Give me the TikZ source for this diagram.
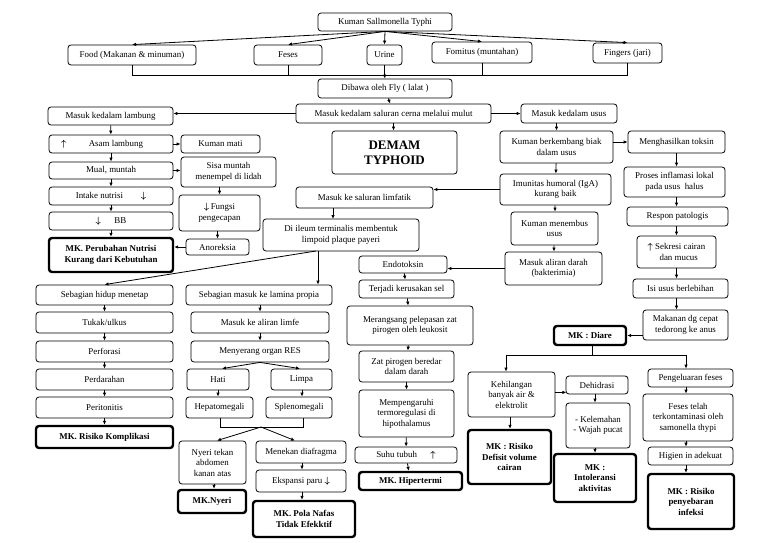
\documentclass[tikz,border=0pt]{standalone}
\usepackage{amsmath}
\usepackage{fontspec}
\setmainfont{Liberation Serif}
\usetikzlibrary{arrows.meta}
\newcommand\bx[7][]{\node[box,#1,minimum width={(#4-#2)*1pt},minimum height={(#5-#3)*1pt}] (#6) at ({(#2+#4)/2},{-(#3+#5)/2}) {#7};}
\newcommand\ua{$\boldsymbol{\uparrow}$}
\newcommand\da{$\boldsymbol{\downarrow}$}
\begin{document}
\begin{tikzpicture}[x=1pt,y=1pt,
  box/.style={draw,rounded corners=3pt,line width=0.8pt,align=center,inner sep=1pt,font=\fontsize{8.9}{10.5}\selectfont},
  mk/.style={line width=2.4pt,font=\fontsize{8.9}{10.5}\selectfont\bfseries},
  ar/.style={-{Latex[length=4pt,width=3.5pt]},line width=0.8pt},
  ln/.style={line width=0.8pt}]
\useasboundingbox (0,0) rectangle (768,-543);
% top
\bx{318}{13}{452}{31}{k}{Kuman Sallmonella Typhi}
\bx{68}{45}{196}{65}{food}{Food (Makanan \& minuman)}
\bx{254}{45}{322}{65}{feses}{Feses}
\bx{367}{45}{402}{65}{urine}{Urine}
\bx{432}{42}{532}{63}{fomi}{Fomitus (muntahan)}
\bx{593}{43}{662}{63}{fing}{Fingers (jari)}
\bx{318}{79}{452}{98}{fly}{Dibawa oleh Fly ( lalat )}
\bx{296}{104}{491}{123}{sal}{Masuk kedalam saluran cerna melalui mulut}
\bx{48}{107}{173}{125}{lam}{Masuk kedalam lambung}
\bx{521}{104}{617}{123}{usus}{Masuk kedalam usus}
\bx[font=\fontsize{13}{15}\selectfont\bfseries]{332}{131}{457}{174}{dem}{DEMAM\\TYPHOID}
% left
\bx{49}{135}{173}{153}{asam}{\ua\hspace{2.5em}Asam lambung\hspace{2em}}
\bx{181}{135}{260}{153}{mati}{Kuman mati}
\bx{49}{162}{173}{179}{mual}{Mual, muntah}
\bx{181}{157}{276}{187}{sisa}{Sisa muntah\\menempel di lidah}
\bx{49}{187}{173}{205}{intake}{Intake nutrisi\hspace{2em}\da}
\bx{179}{195}{260}{231}{fungsi}{\da\,Fungsi\\pengecapan}
\bx{49}{212}{173}{230}{bb}{\da\hspace{1.5em}BB}
\bx{186}{239}{249}{255}{anor}{Anoreksia}
\bx[mk]{49}{238}{173}{272}{mkp}{MK. Perubahan Nutrisi\\Kurang dari Kebutuhan}
\bx{296}{187}{433}{208}{limf}{Masuk ke saluran limfatik}
\bx{263}{219}{419}{251}{ile}{Di ileum terminalis membentuk\\limpoid plaque payeri}
% right
\bx{500}{131}{613}{163}{kb}{Kuman berkembang biak\\dalam usus}
\bx{628}{131}{725}{153}{tok}{Menghasilkan toksin}
\bx{500}{174}{611}{205}{imu}{Imunitas humoral (IgA)\\kurang baik}
\bx{624}{167}{725}{197}{pro}{Proses inflamasi lokal\\pada usus\ \ halus}
\bx{511}{212}{598}{245}{men}{Kuman menembus\\usus}
\bx{627}{207}{728}{226}{res}{Respon patologis}
\bx{505}{252}{602}{285}{dar}{Masuk aliran darah\\(bakterimia)}
\bx{637}{236}{716}{268}{sek}{\ua\ Sekresi cairan\\\ \ dan mucus}
\bx{359}{256}{447}{273}{endo}{Endotoksin}
\bx{633}{279}{728}{298}{isi}{Isi usus berlebihan}
\bx{359}{280}{454}{298}{ter}{Terjadi kerusakan sel}
\bx{643}{310}{728}{340}{mak}{Makanan dg cepat\\tedorong ke anus}
\bx[mk]{554}{326}{626}{345}{dia}{MK : Diare}
\bx{347}{306}{473}{345}{mer}{Merangsang pelepasan zat\\pirogen oleh leukosit}
\bx{359}{351}{454}{382}{zat}{Zat pirogen beredar\\dalam darah}
\bx{359}{390}{454}{437}{mem}{Mempengaruhi\\termoregulasi di\\hipothalamus}
\bx{355}{447}{457}{463}{suhu}{Suhu tubuh\hspace{1.5em}\ua}
\bx[mk]{359}{472}{462}{490}{hip}{MK. Hipertermi}
% lower left
\bx{36}{285}{173}{305}{hid}{Sebagian hidup menetap}
\bx{36}{312}{173}{333}{tuk}{Tukak/ulkus}
\bx{36}{341}{173}{362}{per}{Perforasi}
\bx{36}{369}{173}{390}{pda}{Perdarahan}
\bx{36}{397}{173}{418}{pto}{Peritonitis}
\bx[mk]{36}{426}{173}{448}{mkr}{MK. Risiko Komplikasi}
\bx{186}{285}{332}{305}{lp}{Sebagian masuk ke lamina propia}
\bx{191}{312}{329}{333}{alf}{Masuk ke aliran limfe}
\bx{191}{341}{329}{362}{res2}{Menyerang organ RES}
\bx{187}{369}{249}{390}{hati}{Hati}
\bx{271}{369}{332}{390}{limpa}{Limpa}
\bx{186}{397}{253}{418}{hep}{Hepatomegali}
\bx{266}{397}{332}{418}{spl}{Splenomegali}
\bx{179}{441}{246}{484}{nye}{Nyeri tekan\\abdomen\\kanan atas}
\bx{256}{441}{346}{463}{dia2}{Menekan diafragma}
\bx{256}{470}{346}{492}{eks}{Ekspansi paru \da}
\bx[mk]{178}{490}{246}{513}{mkn}{MK.Nyeri}
\bx[mk]{253}{501}{355}{537}{mkpn}{MK. Pola Nafas\\Tidak Efekktif}
% lower right
\bx{468}{372}{555}{417}{keh}{Kehilangan\\banyak air \&\\elektrolit}
\bx{566}{376}{628}{394}{deh}{Dehidrasi}
\bx{566}{403}{630}{448}{kel}{- Kelemahan\\- Wajah pucat}
\bx{648}{369}{733}{387}{peng}{Pengeluaran feses}
\bx{643}{394}{733}{441}{fes}{Feses telah\\terkontaminasi oleh\\samonella thypi}
\bx{648}{447}{733}{465}{hig}{Higien in adekuat}
\bx[mk]{468}{430}{551}{484}{mkd}{MK : Risiko\\Defisit volume\\cairan}
\bx[mk]{554}{454}{636}{502}{mki}{MK :\\Intoleransi\\aktivitas}
\bx[mk]{648}{474}{734}{529}{mks}{MK : Risiko\\penyebaran\\infeksi}
% connectors top
\foreach \t in {food,feses,urine,fomi,fing} \draw[ar] (k.south) -- (\t.north);
\draw[ln] (food.south) -- (food.south|-0,-75) coordinate (b1) -- (fing.south|-0,-75) -- (fing.south);
\draw[ln] (feses.south) -- (feses.south|-0,-75);
\draw[ln] (fomi.south) -- (fomi.south|-0,-75);
\draw[ln] (urine.south) -- (urine.south|-0,-75) coordinate (b2);
\draw[ar] (b2) -- (fly.north);
\draw[ar] (fly) -- (sal);
\draw[ar] (sal.west) -- (sal.west-|lam.east);
\draw[ar] (sal.east) -- (usus.west|-sal.east);
\draw[ar] (sal.south) -- (sal.south|-dem.north);
% left chain
\draw[ar] (lam) -- (asam); \draw[ar] (asam) -- (mual); \draw[ar] (mual) -- (intake);
\draw[ar] (intake) -- (bb); \draw[ar] (bb) -- (mkp);
\draw[ar] (asam) -- (mati); \draw[ar] (mual.east) -- (mual.east-|sisa.west);
\draw[ar] (sisa.south-|fungsi.north) -- (fungsi.north);
\draw[ar] (fungsi.south-|anor.north) -- (anor.north);
\draw[ar] (anor.west) -- (anor.west-|mkp.east);
% middle
\draw[ar] (usus.south-|kb.north) -- (kb.north);
\draw[ar] (kb.east|-tok.west) -- (tok.west);
\draw[ar] (kb) -- (imu); \draw[ar] (imu) -- (men); \draw[ar] (men) -- (dar);
\draw[ar] (imu.west) -- (imu.west-|limf.east);
\draw[ar] (limf.south-|333,0) -- (333,-219);
\draw[ar] (316,-251) -- (hid.north);
\draw[ar] (318,-251) -- (lp.north-|318,0);
\draw[ar] (dar.west) -- (dar.west-|endo.east);
\draw[ar] (endo) -- (ter); \draw[ar] (ter) -- (mer); \draw[ar] (mer) -- (zat);
\draw[ar] (zat) -- (mem); \draw[ar] (mem) -- (suhu); \draw[ar] (suhu) -- (hip);
% right
\draw[ar] (tok) -- (tok|-pro.north); \draw[ar] (pro.south-|tok) -- (res.north-|tok);
\draw[ar] (res.south-|tok) -- (sek.north-|tok); \draw[ar] (sek.south-|tok) -- (isi.north-|tok);
\draw[ar] (isi.south-|tok) -- (mak.north-|tok);
\draw[ar] (mak.west|-dia.east) -- (dia.east);
% lower left
\draw[ar] (hid) -- (tuk); \draw[ar] (tuk) -- (per); \draw[ar] (per) -- (pda);
\draw[ar] (pda) -- (pto); \draw[ar] (pto) -- (mkr);
\draw[ar] (lp.south-|alf) -- (alf); \draw[ar] (alf) -- (res2);
\draw[ar] (res2.south) -- (hati.north-|222,0);
\draw[ar] (res2.south) -- (limpa.north-|300,0);
\draw[ar] (hati.south-|218,0) -- (hep.north-|218,0);
\draw[ar] (limpa.south-|302,0) -- (spl.north-|302,0);
\draw[ln] (hep.south-|220,0) -- (220,-427) -- (303,-427) -- (spl.south-|303,0);
\draw[ar] (261,-427) -- (nye.north-|217,0);
\draw[ar] (261,-427) -- (dia2.north-|295,0);
\draw[ar] (nye.south-|214,0) -- (mkn.north-|214,0);
\draw[ar] (dia2.south-|302,0) -- (eks.north-|302,0);
\draw[ar] (eks.south-|302,0) -- (mkpn.north-|302,0);
% diare
\draw[ln] (dia.south-|592,0) -- (592,-355);
\draw[ln] (506,-355) -- (686,-355);
\draw[ar] (506,-355) -- (keh.north-|506,0);
\draw[ar] (686,-355) -- (peng.north-|686,0);
\draw[ar] (keh.east|-deh.south) ++(0,2) -- ++(11,0);
\draw[ar] (keh.south-|510,0) -- (mkd.north-|510,0);
\draw[ar] (deh.south-|595,0) -- (kel.north-|595,0);
\draw[ar] (kel.south-|595,0) -- (mki.north-|595,0);
\draw[ar] (peng.south-|686,0) -- (fes.north-|686,0);
\draw[ar] (fes.south-|686,0) -- (hig.north-|686,0);
\draw[ar] (hig.south-|686,0) -- (mks.north-|686,0);
\end{tikzpicture}
\end{document}
